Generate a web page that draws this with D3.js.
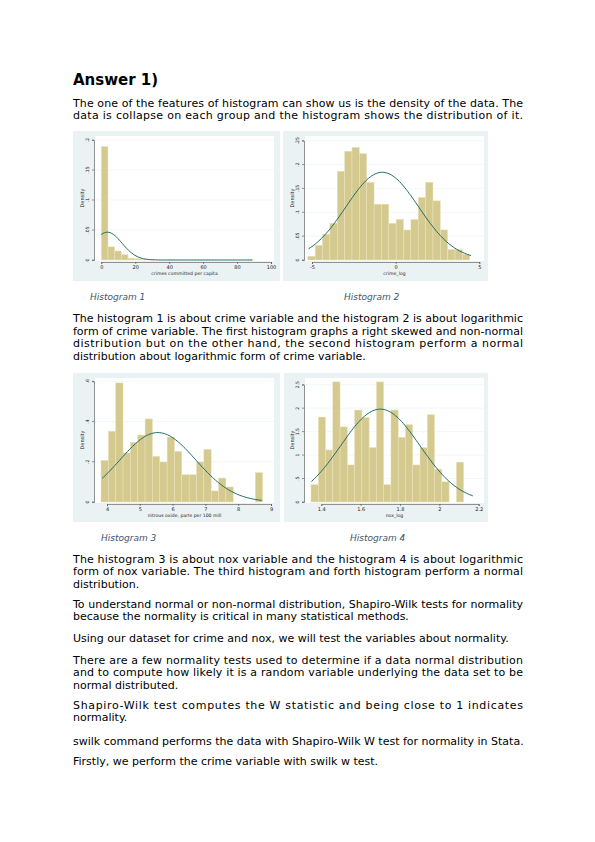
<!DOCTYPE html>
<html><head><meta charset="utf-8">
<script src="https://cdn.jsdelivr.net/npm/d3@7"></script>
<style>body{margin:0;background:#fff}svg{display:block}</style>
</head><body>
<script>
// ---- data ----
const h1Values=[0.189,0.022,0.015,0.009,0.003,0.002,0.001,0.0005,0,0,0.0003,0,0,0,0,0,0,0,0,0,0,0,0.0003];
const h1Start=0, h1Width=3.93, h1Mean=3.6, h1Sd=8.6, h1CurveRange=[0,89];
const h1XTicks=[0,20,40,60,80,100], h1YTicks=[0,0.05,0.1,0.15,0.2], h1YLabels=["0",".05",".1",".15",".2"];
const h2Values=[0.008,0.031,0.054,0.077,0.186,0.228,0.236,0.223,0.163,0.117,0.117,0.077,0.085,0.063,0.085,0.131,0.163,0.124,0.063,0.022,0.022,0.012];
const h2Start=-5.25, h2Width=0.44, h2Mean=-0.8, h2Sd=2.17, h2CurveRange=[-5.2,4.5];
const h2XTicks=[-5,0,5], h2YTicks=[0,0.05,0.1,0.15,0.2,0.25], h2YLabels=["0",".05",".1",".15",".2",".25"];
const h3Values=[0.207,0.352,0.592,0.244,0.297,0.333,0.413,0.227,0.199,0.323,0.252,0.136,0.136,0.199,0.262,0.055,0.119,0.075,0,0,0,0.146];
const h3Start=3.817, h3Width=0.224, h3Mean=5.55, h3Sd=1.156, h3CurveRange=[3.85,8.72];
const h3XTicks=[4,5,6,7,8,9], h3YTicks=[0,0.2,0.4,0.6], h3YLabels=["0",".2",".4",".6"];
const h4Values=[0.37,1.81,1.11,2.56,1.60,0.79,1.96,1.80,1.16,2.56,0.37,1.96,1.38,1.65,0.79,1.16,1.86,0.70,0.43,0,0.85];
const h4Start=1.3475, h4Width=0.03695, h4Mean=1.70, h4Sd=0.2015, h4CurveRange=[1.35,2.17];
const h4XTicks=[1.4,1.6,1.8,2,2.2], h4YTicks=[0,0.5,1,1.5,2,2.5], h4YLabels=["0",".5","1","1.5","2","2.5"];

const svg=d3.select("body").append("svg").attr("width",595).attr("height",842);
const FONT="DejaVu Sans";

function hist(o){
  const g=svg.append("g");
  g.append("rect").attr("x",o.fx).attr("y",o.fy).attr("width",o.fw).attr("height",o.fh).attr("fill","#eaf2f3");
  g.append("rect").attr("x",o.px0).attr("y",o.py1).attr("width",o.px1-o.px0).attr("height",o.py0-o.py1+1).attr("fill","#fff");
  const x=d3.scaleLinear().domain(o.xd).range(o.xr);
  const y=d3.scaleLinear().domain(o.yd).range(o.yr);
  o.yTicks.forEach(t=>{ if(t>0) g.append("line").attr("x1",o.px0).attr("x2",o.px1).attr("y1",y(t)).attr("y2",y(t)).attr("stroke","#eaf2f3").attr("stroke-width",0.6);});
  const bins=o.values.map((v,i)=>({x0:o.start+i*o.width,x1:o.start+(i+1)*o.width,v}));
  g.selectAll(".b").data(bins.filter(b=>b.v>0)).enter().append("rect")
    .attr("x",d=>x(d.x0)).attr("width",d=>x(d.x1)-x(d.x0)).attr("y",d=>y(d.v)).attr("height",d=>y(0)-y(d.v))
    .attr("fill","#d4c98e").attr("stroke","#ece4bd").attr("stroke-width",0.5);
  const pts=d3.range(0,101).map(i=>{const xv=o.cr[0]+(o.cr[1]-o.cr[0])*i/100;const z=(xv-o.mean)/o.sd;return [xv,Math.exp(-z*z/2)/(o.sd*Math.sqrt(2*Math.PI))];});
  g.append("path").attr("d",d3.line().x(d=>x(d[0])).y(d=>y(d[1]))(pts)).attr("fill","none").attr("stroke","#1f6d63").attr("stroke-width",1);
  const xa=g.append("g").attr("transform",`translate(0,${o.py0+2})`).call(d3.axisBottom(x).tickValues(o.xTicks).tickFormat(o.xfmt||(d=>d)).tickSize(2).tickPadding(1.5));
  xa.select(".domain").attr("stroke","#333").attr("stroke-width",0.5);
  xa.selectAll("line").attr("stroke","#333").attr("stroke-width",0.5);
  xa.selectAll("text").attr("font-size",5).attr("font-family",FONT).attr("fill","#222");
  const ya=g.append("g").attr("transform",`translate(${o.px0-1},0)`).call(d3.axisLeft(y).tickValues(o.yTicks).tickFormat((d,i)=>o.yLabels[i]).tickSize(2).tickPadding(1.5));
  ya.select(".domain").attr("stroke","#333").attr("stroke-width",0.5);
  ya.selectAll("line").attr("stroke","#333").attr("stroke-width",0.5);
  ya.selectAll("text").attr("font-size",4.6).attr("font-family",FONT).attr("fill","#222")
    .attr("text-anchor","middle").attr("transform",function(){return "";})
    .each(function(d){const t=d3.select(this);t.attr("x",null).attr("dy",null).attr("transform",`translate(-5,${y(d)}) rotate(-90)`).attr("y",0);});
  ya.selectAll(".tick").attr("transform","translate(0,0)");
  ya.selectAll(".tick line").attr("y1",d=>y(d)).attr("y2",d=>y(d));
  g.append("text").attr("transform",`translate(${o.px0-11},${(o.py0+o.py1)/2}) rotate(-90)`).attr("text-anchor","middle")
    .attr("font-size",5).attr("font-family",FONT).attr("fill","#222").text("Density");
  g.append("text").attr("x",(o.px0+o.px1)/2).attr("y",o.py0+15).attr("text-anchor","middle")
    .attr("font-size",4.6).attr("font-family",FONT).attr("fill","#222").text(o.xTitle);
}

hist({fx:73,fy:131,fw:207,fh:150,px0:95,px1:274,py0:260,py1:136,xd:[0,100],xr:[101.3,271],yd:[0,0.2],yr:[260,140],
  values:h1Values,start:h1Start,width:h1Width,mean:h1Mean,sd:h1Sd,cr:h1CurveRange,xTicks:h1XTicks,yTicks:h1YTicks,yLabels:h1YLabels,xTitle:"crimes committed per capita"});
hist({fx:283,fy:131,fw:205,fh:150,px0:305,px1:484,py0:260,py1:136,xd:[-5,5],xr:[312,479.3],yd:[0,0.25],yr:[260,140.7],
  values:h2Values,start:h2Start,width:h2Width,mean:h2Mean,sd:h2Sd,cr:h2CurveRange,xTicks:h2XTicks,yTicks:h2YTicks,yLabels:h2YLabels,xTitle:"crime_log"});
hist({fx:73,fy:373,fw:207,fh:149,px0:95,px1:274,py0:502,py1:378,xd:[4,9],xr:[107,271],yd:[0,0.6],yr:[502,381.3],
  values:h3Values,start:h3Start,width:h3Width,mean:h3Mean,sd:h3Sd,cr:h3CurveRange,xTicks:h3XTicks,yTicks:h3YTicks,yLabels:h3YLabels,xTitle:"nitrous oxide, parts per 100 mill"});
hist({fx:284,fy:373,fw:204,fh:149,px0:305,px1:484,py0:502,py1:378,xd:[1.4,2.2],xr:[321.3,478.7],yd:[0,2.5],yr:[502,384.7],
  values:h4Values,start:h4Start,width:h4Width,mean:h4Mean,sd:h4Sd,cr:h4CurveRange,xTicks:h4XTicks,yTicks:h4YTicks,yLabels:h4YLabels,xTitle:"nox_log",xfmt:d=>d===2?"2":d3.format(".1f")(d)});

// ---- text ----
svg.append("text").attr("x",73).attr("y",85).attr("font-family",FONT).attr("font-weight","bold").attr("font-size",15).text("Answer 1)");
const lines=[
 [107,"The one of the features of histogram can show us is the density of the data. The",1],
 [119,"data is collapse on each group and the histogram shows the distribution of it.",1],
 [322,"The histogram 1 is about crime variable and the histogram 2 is about logarithmic",1],
 [335,"form of crime variable. The first histogram graphs a right skewed and non-normal",1],
 [347,"distribution but on the other hand, the second histogram perform a normal",1],
 [360,"distribution about logarithmic form of crime variable.",0],
 [563,"The histogram 3 is about nox variable and the histogram 4 is about logarithmic",1],
 [575,"form of nox variable. The third histogram and forth histogram perform a normal",1],
 [588,"distribution.",0],
 [608,"To understand normal or non-normal distribution, Shapiro-Wilk tests for normality",1],
 [620,"because the normality is critical in many statistical methods.",0],
 [642,"Using our dataset for crime and nox, we will test the variables about normality.",0],
 [664,"There are a few normality tests used to determine if a data normal distribution",1],
 [676,"and to compute how likely it is a random variable underlying the data set to be",1],
 [689,"normal distributed.",0],
 [709,"Shapiro-Wilk test computes the W statistic and being close to 1 indicates",1],
 [721,"normality.",0],
 [745,"swilk command performs the data with Shapiro-Wilk W test for normality in Stata.",0],
 [765,"Firstly, we perform the crime variable with swilk w test.",0]];
lines.forEach(l=>{const t=svg.append("text").attr("x",73).attr("y",l[0]).attr("font-family",FONT).attr("font-size",11).attr("fill","#000").text(l[1]);
  if(l[2]) t.attr("textLength",450).attr("lengthAdjust","spacing");});
[[90,300,"Histogram 1"],[344,300,"Histogram 2"],[101,541,"Histogram 3"],[350,541,"Histogram 4"]].forEach(c=>
  svg.append("text").attr("x",c[0]).attr("y",c[1]).attr("font-family",FONT).attr("font-style","italic").attr("font-size",9).attr("fill","#44546a").text(c[2]));
</script>
</body></html>
